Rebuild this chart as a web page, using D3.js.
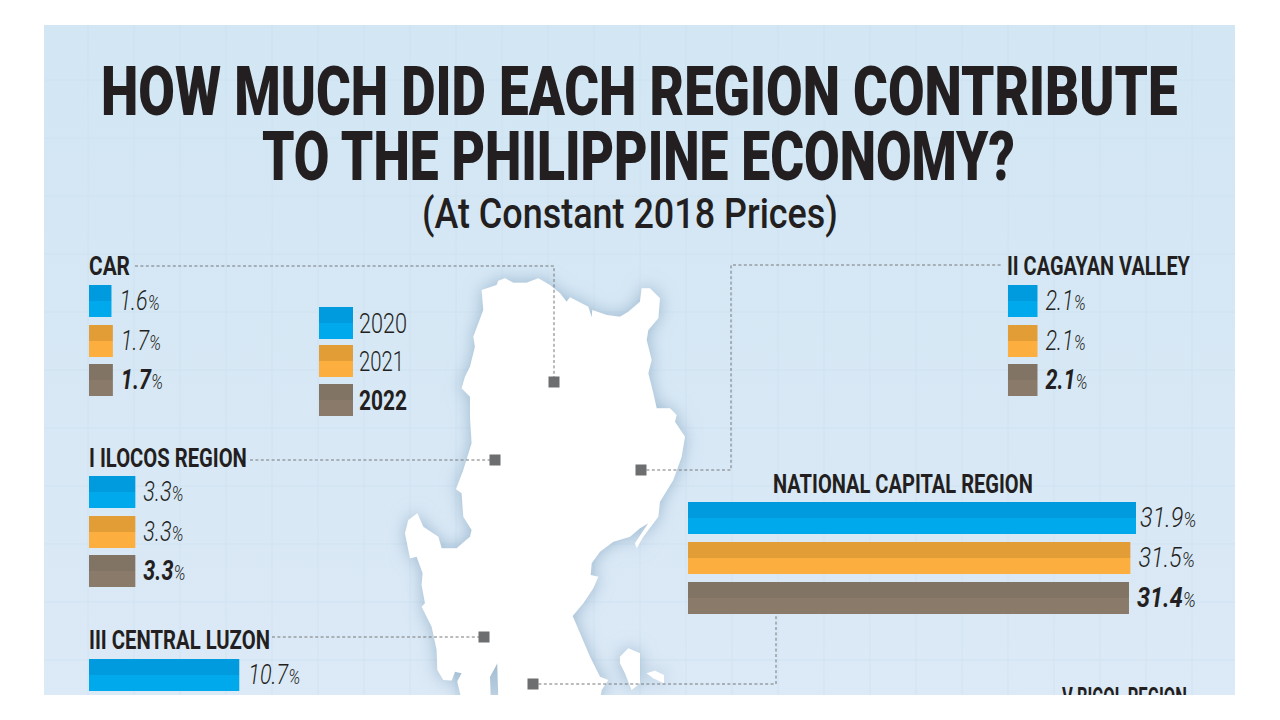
<!DOCTYPE html>
<html>
<head>
<meta charset="utf-8">
<title>Regional contribution to the Philippine economy</title>
<script src="https://cdn.jsdelivr.net/npm/d3@7"></script>
<style>
  html, body { margin: 0; padding: 0; background: #fff; }
  svg { display: block; }
  text { fill: #231f20; font-family: "Roboto", sans-serif; }
</style>
</head>
<body>
<div id="chart"></div>
<script>
// data
var years = ['2020', '2021', '2022'];
var car = [1.6, 1.7, 1.7];
var ilocos = [3.3, 3.3, 3.3];
var cagayan = [2.1, 2.1, 2.1];
var ncr = [31.9, 31.5, 31.4];
var centralLuzon = [10.7]; // the other two years are cut off by the crop

// where each block sits on the page
var blocks = [
  { name: 'CAR', values: car, x: 89, titleY: 275, titleLen: 41, rows: [285, 325, 364], gaps: [8, 8, 8], squeeze: 0.8 },
  { name: 'I ILOCOS REGION', values: ilocos, x: 89, titleY: 467, titleLen: 158, rows: [476, 516, 555], gaps: [8, 8, 8], squeeze: 0.8 },
  { name: 'III CENTRAL LUZON', values: centralLuzon, x: 89, titleY: 649, titleLen: 181, rows: [659], gaps: [9], squeeze: 0.8 },
  { name: 'II CAGAYAN VALLEY', values: cagayan, x: 1008, titleY: 275, titleX: 1007, titleLen: 183, rows: [285, 325, 364], gaps: [8, 8, 8], squeeze: 0.8 },
  { name: 'NATIONAL CAPITAL REGION', values: ncr, x: 688, titleY: 493, titleX: 773, titleLen: 260, rows: [502, 542, 582], gaps: [4, 8, 8], squeeze: 0.87 }
];

var W = 1280, H = 720;
var panel = { x: 44, y: 25, w: 1191, h: 670 };
var barH = 32;

var svg = d3.select('#chart').append('svg').attr('width', W).attr('height', H);
var defs = svg.append('defs');

defs.append('clipPath').attr('id', 'panel-clip').append('rect')
  .attr('x', panel.x).attr('y', panel.y).attr('width', panel.w).attr('height', panel.h);

var bgGrad = defs.append('linearGradient').attr('id', 'panel-bg')
  .attr('x1', 0).attr('y1', 0).attr('x2', 0).attr('y2', 1);
bgGrad.append('stop').attr('offset', 0).attr('stop-color', '#d2e6f4');
bgGrad.append('stop').attr('offset', 1).attr('stop-color', '#dce9f6');

// two tone fills, dark on the top half
var tones = [['#009bdf', '#00a8ec'], ['#e39d37', '#fcae3e'], ['#827464', '#8a7a69']];
tones.forEach(function(t, i) {
  var g = defs.append('linearGradient').attr('id', 'tone' + i)
    .attr('x1', 0).attr('y1', 0).attr('x2', 0).attr('y2', 1);
  g.append('stop').attr('offset', 0.5).attr('stop-color', t[0]);
  g.append('stop').attr('offset', 0.5).attr('stop-color', t[1]);
});

var shadow = defs.append('filter').attr('id', 'map-shadow')
  .attr('x', '-20%').attr('y', '-20%').attr('width', '140%').attr('height', '140%');
shadow.append('feDropShadow').attr('dx', 0).attr('dy', 0).attr('stdDeviation', 26)
  .attr('flood-color', '#7fa3bd').attr('flood-opacity', 0.7);

var root = svg.append('g').attr('clip-path', 'url(#panel-clip)');

root.append('rect')
  .attr('x', panel.x).attr('y', panel.y).attr('width', panel.w).attr('height', panel.h)
  .attr('fill', 'url(#panel-bg)');

// faint paper grid
var grid = root.append('g').attr('stroke', '#c9dfef').attr('stroke-width', 1).attr('opacity', 0.6);
grid.selectAll('.v').data(d3.range(88, panel.x + panel.w, 46)).enter().append('line')
  .attr('x1', function(d) { return d; }).attr('x2', function(d) { return d; })
  .attr('y1', panel.y).attr('y2', panel.y + panel.h);
grid.selectAll('.h').data(d3.range(80, panel.y + panel.h, 58)).enter().append('line')
  .attr('y1', function(d) { return d; }).attr('y2', function(d) { return d; })
  .attr('x1', panel.x).attr('x2', panel.x + panel.w);

// squeeze a text sideways until it is len wide, the picture uses a condensed face
function fit(sel, x, y, len) {
  var natural = sel.node().getComputedTextLength();
  sel.attr('transform', 'translate(' + x + ',' + y + ') scale(' + (len / natural) + ',1)');
}

function heading(txt, x, y, size, len, weight) {
  var t = root.append('text').text(txt).attr('font-size', size).attr('font-weight', weight);
  fit(t, x, y, len);
}
heading('HOW MUCH DID EACH REGION CONTRIBUTE', 101, 115, 68, 1077, 900);
heading('TO THE PHILIPPINE ECONOMY?', 262, 180, 68, 753, 900);
heading('(At Constant 2018 Prices)', 422, 228, 42, 416, 500);

// Luzon outline
var luzon = [[305,90],[350,75],[355,62],[375,55],[400,68],[440,68],[475,55],[510,75],[540,100],[560,125],[570,112],[625,140],[635,172],[637,150],[680,165],[720,170],[745,155],[780,125],[785,85],[810,85],[840,115],[835,175],[805,210],[800,240],[815,300],[805,340],[820,400],[830,445],[870,445],[890,465],[885,485],[915,530],[905,590],[880,660],[840,725],[835,770],[790,830],[770,865],[765,850],[805,790],[780,805],[750,830],[700,845],[660,875],[635,910],[632,945],[655,950],[640,985],[610,1030],[578,1068],[600,1120],[630,1190],[660,1250],[685,1260],[665,1290],[660,1320],[355,1320],[352,1210],[330,1250],[332,1320],[245,1320],[232,1265],[245,1240],[225,1235],[215,1262],[190,1260],[172,1230],[170,1170],[155,1100],[125,1040],[135,1030],[125,975],[128,940],[110,890],[90,895],[75,820],[85,780],[112,760],[130,800],[175,830],[185,865],[230,865],[270,830],[275,810],[250,770],[245,700],[228,688],[250,630],[275,550],[270,470],[270,410],[245,385],[255,350],[270,320],[285,260],[280,230],[310,150]];
var islandA = [[720,1190],[745,1165],[780,1180],[780,1270],[755,1290],[735,1240],[720,1210]];
var islandB = [[800,1240],[825,1232],[852,1245],[852,1270],[820,1255]];

var outline = d3.line().curve(d3.curveLinearClosed);
root.append('g')
  .attr('transform', 'translate(380,260) scale(0.3333)')
  .attr('filter', 'url(#map-shadow)')
  .selectAll('path').data([luzon, islandA, islandB]).enter().append('path')
  .attr('d', outline)
  .attr('fill', '#fff');

// leader lines from the labels to the map
var leaders = [
  [[135,266],[554,266],[554,382]],
  [[250,460],[495,460]],
  [[272,637],[484,637]],
  [[641,470],[731,470],[731,265],[1002,265]],
  [[533,684],[776,684],[776,614]]
];
root.append('g').selectAll('path').data(leaders).enter().append('path')
  .attr('d', d3.line())
  .attr('fill', 'none')
  .attr('stroke', '#77787b')
  .attr('stroke-width', 1)
  .attr('stroke-dasharray', '3 2.4');

var markers = [[554,382],[495,460],[484,637],[641,470],[533,684]];
root.append('g').selectAll('rect').data(markers).enter().append('rect')
  .attr('x', function(d) { return d[0] - 5.5; })
  .attr('y', function(d) { return d[1] - 5.5; })
  .attr('width', 11).attr('height', 11)
  .attr('fill', '#6d6e70');

// same scale for every bar on the page
var x = d3.scaleLinear().domain([0, 31.9]).range([0, 448]);
var yearIndex = d3.scaleOrdinal().domain(years).range([0, 1, 2]);

var block = root.selectAll('.block').data(blocks).enter().append('g').attr('class', 'block');

block.append('text')
  .attr('font-size', 25)
  .attr('font-weight', 700)
  .text(function(d) { return d.name; })
  .each(function(d) { fit(d3.select(this), d.titleX || d.x, d.titleY, d.titleLen); });

var row = block.selectAll('.row')
  .data(function(d) {
    return d.values.map(function(v, i) {
      return { value: v, year: years[i], x: d.x, y: d.rows[i], gap: d.gaps[i], squeeze: d.squeeze };
    });
  })
  .enter().append('g').attr('class', 'row');

row.append('rect')
  .attr('x', function(d) { return d.x; })
  .attr('y', function(d) { return d.y; })
  .attr('width', function(d) { return x(d.value); })
  .attr('height', barH)
  .attr('fill', function(d) { return 'url(#tone' + yearIndex(d.year) + ')'; });

var label = row.append('text')
  .attr('transform', function(d) {
    return 'translate(' + (d.x + x(d.value) + d.gap) + ',' + (d.y + 25) + ') scale(' + d.squeeze + ',1)';
  })
  .attr('font-style', 'italic')
  .attr('font-weight', function(d) { return d.year === '2022' ? 700 : 300; });
label.append('tspan').attr('font-size', 27).text(function(d) { return d.value.toFixed(1); });
label.append('tspan').attr('font-size', 21).attr('font-weight', 300).text('%');

// V Bicol heading, mostly cropped by the panel edge
var bicol = root.append('text').attr('font-size', 25).attr('font-weight', 700).text('V BICOL REGION');
fit(bicol, 1062, 706, 125);

// legend
var legendRows = [307, 345, 384];
var legend = root.selectAll('.legend').data(years).enter().append('g').attr('class', 'legend');
legend.append('rect')
  .attr('x', 319)
  .attr('y', function(d, i) { return legendRows[i]; })
  .attr('width', 34).attr('height', 32)
  .attr('fill', function(d) { return 'url(#tone' + yearIndex(d) + ')'; });
legend.append('text')
  .attr('font-size', 27)
  .attr('font-weight', function(d) { return d === '2022' ? 700 : 300; })
  .text(function(d) { return d; })
  .each(function(d, i) { fit(d3.select(this), 359, legendRows[i] + 26, d === '2021' ? 45 : 48); });
</script>
</body>
</html>
